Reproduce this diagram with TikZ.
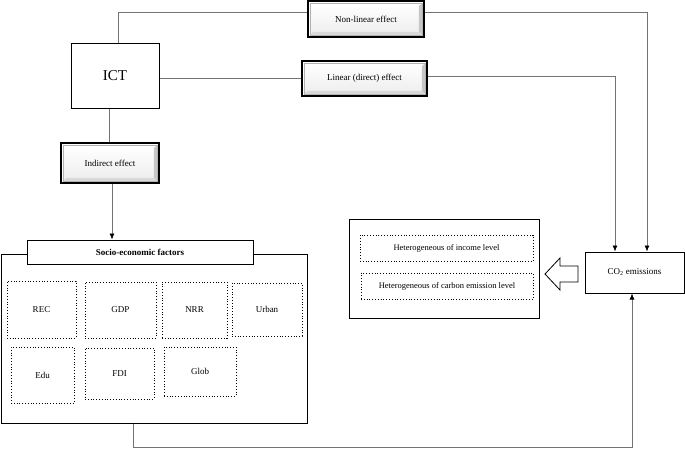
\documentclass[tikz,border=0pt]{standalone}
\usepackage{fontspec}
\setmainfont{Liberation Serif}
\usetikzlibrary{arrows.meta}
\tikzset{
  sz/.style 2 args={minimum width=#1pt, minimum height=#2pt},
  boxa/.style={draw=black, line width=1pt, fill=white, inner sep=0pt, font=\fontsize{9}{11}\selectfont},
  bevelbox/.style={boxa, line width=1.1pt,
    path picture={
      \coordinate (bnw) at ([shift={(2.2pt,-2.2pt)}]path picture bounding box.north west);
      \coordinate (bse) at ([shift={(-2.2pt,2.2pt)}]path picture bounding box.south east);
      \shade[top color=white, bottom color=gray!14] (bnw) rectangle (bse);
      \fill[gray!45] (bse) -- (bse |- bnw) -- ++(-3pt,-3pt) -- ([shift={(-3pt,3pt)}]bse) -- cycle;
      \fill[gray!30] (bse) -- (bnw |- bse) -- ++(3pt,3pt) -- ([shift={(-3pt,3pt)}]bse) -- cycle;
      \draw[gray!60, line width=0.5pt] (bnw) rectangle (bse);
    }},
  dotbox/.style={draw=black, dotted, line width=0.8pt, inner sep=0pt, font=\fontsize{9}{11}\selectfont},
  conn/.style={draw=black!55, line width=0.7pt},
  tipa/.style={-{Latex[black,length=6pt,width=5pt]}}
}
\begin{document}
\begin{tikzpicture}[x=1pt,y=-1pt]
\useasboundingbox (0,0) rectangle (685,448);

% nodes
\node[boxa, sz={88}{65}, font=\fontsize{15}{17}\selectfont] (ict) at (115,75.5) {ICT};
\node[bevelbox, sz={116}{36}] (nonlin) at (366,19) {Non-linear effect};
\node[bevelbox, sz={125}{35}] (lin) at (364.5,78.5) {Linear (direct) effect};
\node[bevelbox, sz={98}{40}] (indirect) at (110,163) {Indirect effect};

\node[boxa, sz={306}{169}] (socbox) at (154,338.5) {};
\node[boxa, sz={226}{24}, font=\fontsize{9}{11}\selectfont\bfseries] (soclab) at (140,252) {Socio-economic factors};

\node[dotbox, sz={69}{57}] (rec) at (41.5,309.5) {REC};
\node[dotbox, sz={71}{56}] (gdp) at (120.5,310) {GDP};
\node[dotbox, sz={65}{56}] (nrr) at (194.5,310) {NRR};
\node[dotbox, sz={70}{53}] (urban) at (267,309.5) {Urban};
\node[dotbox, sz={63}{56}] (edu) at (42.5,375) {Edu};
\node[dotbox, sz={69}{51}] (fdi) at (119.5,373.5) {FDI};
\node[dotbox, sz={72}{49}] (glob) at (200,371.5) {Glob};

\node[boxa, sz={190}{99}] (hetbox) at (444,268.5) {};
\node[dotbox, sz={173}{26}, font=\fontsize{8.5}{10}\selectfont] (income) at (446.5,248) {Heterogeneous of income level};
\node[dotbox, sz={172}{26}, font=\fontsize{8.5}{10}\selectfont] (carbon) at (447,286) {Heterogeneous of carbon emission level};

\node[boxa, sz={99}{41}] (co2) at (634.5,272.5) {CO\textsubscript{2} emissions};

% connector corner coordinates
\coordinate (c1) at (118,12);
\coordinate (c2) at (647,12);
\coordinate (l1) at (0,78);
\coordinate (c3) at (615,76);
\coordinate (v1) at (109,0);
\coordinate (v2) at (112,0);
\coordinate (b1) at (133,447);
\coordinate (b2) at (632,447);

% connectors
\draw[conn] (c1 |- ict.north) -- (c1) -- (c1 -| nonlin.west);
\draw[conn, tipa] (c2 -| nonlin.east) -- (c2) -- (c2 |- co2.north);
\draw[conn] (ict.east |- l1) -- (lin.west |- l1);
\draw[conn, tipa] (c3 -| lin.east) -- (c3) -- (c3 |- co2.north);
\draw[conn] (v1 |- ict.south) -- (v1 |- indirect.north);
\draw[conn, tipa] (v2 |- indirect.south) -- (v2 |- soclab.north);
\draw[conn, tipa] (b1 |- socbox.south) -- (b1) -- (b2) -- (b2 |- co2.south);

% hollow arrow from CO2 to heterogeneity box
\draw[line width=0.8pt, fill=white] (578,266) -- (560,266) -- (560,258) -- (545,274) -- (560,290) -- (560,282) -- (578,282) -- cycle;
\end{tikzpicture}
\end{document}
